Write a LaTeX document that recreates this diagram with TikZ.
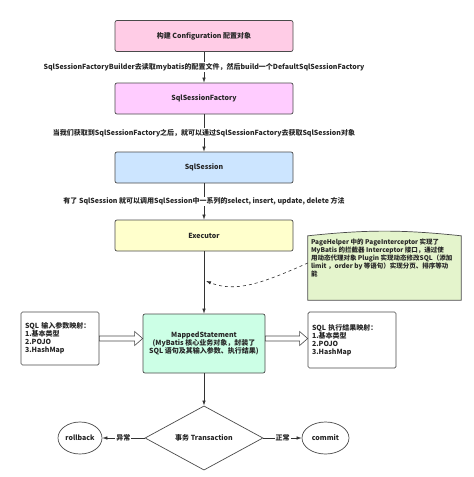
\documentclass[tikz,border=0pt]{standalone}
\usepackage{fontspec}
\setmainfont{Noto Sans CJK SC}
\usetikzlibrary{shapes.geometric,arrows.meta,backgrounds}
\definecolor{boxline}{HTML}{4A4A4A}
\definecolor{cfgpink}{HTML}{FFCCE6}
\definecolor{factorypink}{HTML}{FFCCFF}
\definecolor{sessionblue}{HTML}{CCE5FF}
\definecolor{execyellow}{HTML}{FFFFCC}
\definecolor{mappedmint}{HTML}{CCFFE6}
\definecolor{notegreen}{HTML}{E4F4CC}
\tikzset{
  txt/.style={font=\bfseries\fontsize{7pt}{8pt}\selectfont,text=black!85},
  mainbox/.style={txt,draw=boxline,line width=0.7pt,rounded corners=2pt,
    minimum width=178pt,minimum height=31pt},
  listbox/.style={txt,draw=boxline,line width=0.7pt,rounded corners=1.5pt,
    align=left,text width=70pt,inner sep=4pt},
  flow/.style={draw=black!80,line width=0.6pt,-{Latex[length=5pt,width=3.5pt]}},
  elabel/.style={txt,fill=white,inner sep=1pt},
  hollow/.style={draw=boxline,line width=0.6pt,fill=white,
    to path={([yshift=2.5pt]\tikztostart) -- ([yshift=2.5pt,xshift=-8pt]\tikztotarget)
      -- ([yshift=7pt,xshift=-8pt]\tikztotarget) -- (\tikztotarget)
      -- ([yshift=-7pt,xshift=-8pt]\tikztotarget) -- ([yshift=-2.5pt,xshift=-8pt]\tikztotarget)
      -- ([yshift=-2.5pt]\tikztostart) -- cycle}}
}
\begin{document}
\begin{tikzpicture}[x=1pt,y=-1pt]
  \useasboundingbox (0,0) rectangle (474,477);
  \draw
    (204,36) node[mainbox,fill=cfgpink] (cfg){构建 Configuration 配置对象}
    (204,98.5) node[mainbox,fill=factorypink] (factory){SqlSessionFactory}
    (204,167.5) node[mainbox,fill=sessionblue] (session){SqlSession}
    (204,235.5) node[mainbox,fill=execyellow] (executor){Executor}
    (204,343.5) node[mainbox,fill=mappedmint,minimum width=122pt,minimum height=59pt,
      align=center] (mapped){MappedStatement\\(MyBatis 核心业务对象，封装了\\SQL 语句及其输入参数、执行结果)}
    (60,338.5) node[listbox,minimum width=78pt,minimum height=53pt] (input)
      {SQL 输入参数映射：\\1.基本类型\\2.POJO\\3.HashMap}
    (352,340) node[listbox,minimum width=88pt,minimum height=56pt,text width=80pt] (output)
      {SQL 执行结果映射：\\1.基本类型\\2.POJO\\3.HashMap}
    (204,438) node[txt,draw=boxline,line width=0.7pt,diamond,minimum width=118pt,
      minimum height=50pt,inner sep=0pt] (trans){事务 Transaction}
    (80,438) node[txt,draw=boxline,line width=0.7pt,ellipse,minimum width=44pt,
      minimum height=32pt,inner sep=0pt] (rollback){rollback}
    (325.5,438) node[txt,draw=boxline,line width=0.7pt,ellipse,minimum width=47pt,
      minimum height=32pt,inner sep=0pt] (commit){commit}
    (384.5,268) node[txt,font=\bfseries\fontsize{6.5pt}{7.5pt}\selectfont,inner sep=3pt] (note)
      {\parbox[c][58pt][t]{147pt}{%
      \begin{tabular}[t]{@{}l@{}}
      PageHelper 中的 PageInterceptor 实现了\\
      MyBatis 的拦截器 Interceptor 接口，通过使\\
      用动态代理对象 Plugin 实现动态修改SQL（添加\\
      limit ，order by 等语句）实现分页、排序等功\\
      能
      \end{tabular}}};
  \coordinate (hook) at (206,281);
  \begin{scope}[on background layer]
    \draw[draw=boxline,line width=0.7pt,fill=notegreen]
      (note.south west) -- (note.north west) to[bend left=6] (note.north east)
      -- (note.south east) -- cycle;
  \end{scope}
  \begin{scope}[flow]
    \draw (cfg) -- node[elabel]{SqlSessionFactoryBuilder去读取mybatis的配置文件，然后build一个DefaultSqlSessionFactory} (factory);
    \draw (factory) -- node[elabel]{当我们获取到SqlSessionFactory之后，就可以通过SqlSessionFactory去获取SqlSession对象} (session);
    \draw (session) -- node[elabel]{有了 SqlSession 就可以调用SqlSession中一系列的select, insert, update, delete 方法} (executor);
    \draw (executor) -- (mapped);
    \draw (mapped) -- (trans);
    \draw (trans) -- node[elabel]{异常} (rollback);
    \draw (trans) -- node[elabel]{正常} (commit);
  \end{scope}
  \draw[flow,dashed] ([yshift=5pt]note.west) .. controls +(-45,20) and +(30,12) .. (hook);
  \draw[hollow] (input.east) to (input.east -| mapped.west);
  \draw[hollow] (mapped.east |- input.east) to (output.west |- input.east);
\end{tikzpicture}
\end{document}
